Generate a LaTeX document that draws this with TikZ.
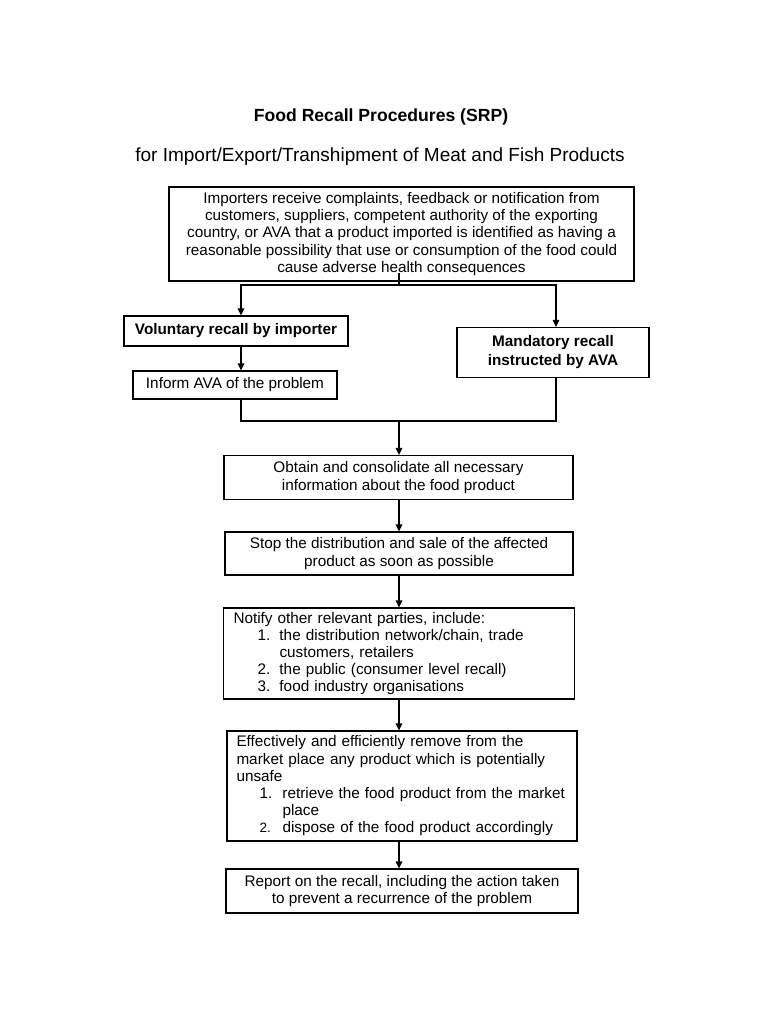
\documentclass[tikz,border=0pt]{standalone}
\usepackage{fontspec}
\setmainfont{Liberation Sans}
\usetikzlibrary{arrows.meta}
\begin{document}
\begin{tikzpicture}[x=1pt,y=-1pt,
  box/.style={draw, line width=1.1pt, inner sep=0pt, align=center, font=\fontsize{15.3}{17.2}\selectfont},
  listbox/.style={box, align=left},
  conn/.style={line width=1.1pt},
  arr/.style={conn, -{Triangle[length=7pt,width=6.5pt]}}]
\useasboundingbox (0,0) rectangle (768,1024);
\node[font=\bfseries\fontsize{17.6}{20}\selectfont] (title) at (381,117) {Food Recall Procedures (SRP)};
\node[font=\fontsize{19}{22}\selectfont] (sub) at (380,157) {for Import/Export/Transhipment of Meat and Fish Products};

\node[box, minimum width=465, minimum height=94] (top) at (401.5,234)
  {Importers receive complaints, feedback or notification from\\
   customers, suppliers, competent authority of the exporting\\
   country, or AVA that a product imported is identified as having a\\
   reasonable possibility that use or consumption of the food could\\
   cause adverse health consequences};
\node[box, font=\bfseries\fontsize{15.3}{17.2}\selectfont, minimum width=224, minimum height=30] (vol) at (236,331) {Voluntary recall by importer};
\node[box, font=\bfseries\fontsize{15.3}{19}\selectfont, minimum width=192, minimum height=50] (man) at (553,352.5) {Mandatory recall\\instructed by AVA};
\node[box, minimum width=204, minimum height=28] (inf) at (235,385) {Inform AVA of the problem};
\node[box, minimum width=349, minimum height=44] (obt) at (398.5,477.5) {Obtain and consolidate all necessary\\information about the food product};
\node[box, minimum width=348, minimum height=43] (stop) at (399,553.5) {Stop the distribution and sale of the affected\\product as soon as possible};
\node[listbox, minimum width=351, minimum height=91, text width=331] (not) at (399,653.5)
  {Notify other relevant parties, include:\\
   \hspace*{24pt}\makebox[22pt][l]{1.}the distribution network/chain, trade\\
   \hspace*{46pt}customers, retailers\\
   \hspace*{24pt}\makebox[22pt][l]{2.}the public (consumer level recall)\\
   \hspace*{24pt}\makebox[22pt][l]{3.}food industry organisations};
\node[listbox, minimum width=350, minimum height=110, text width=331] (eff) at (402,786)
  {Effectively and efficiently remove from the\\
   market place any product which is potentially\\
   unsafe\\
   \hspace*{23pt}\makebox[23pt][l]{1.}retrieve the food product from the market\\
   \hspace*{46pt}place\\
   \hspace*{23pt}\makebox[23pt][l]{\fontsize{13.5}{17.2}\selectfont 2.}dispose of the food product accordingly};
\node[box, minimum width=352, minimum height=44] (rep) at (402,891) {Report on the recall, including the action taken\\to prevent a recurrence of the problem};

\coordinate (split) at (399,285);
\coordinate (join) at (399,421);
\draw[conn] (399,273) -- (split);
\draw[arr] (split) -| (vol.north -| 241,0);
\draw[arr] (split) -| (man.north -| 556,0);
\draw[arr] (vol.south -| 241,0) -- (inf.north -| 241,0);
\draw[conn] (inf.south -| 241,0) |- (join);
\draw[conn] (man.south -| 556,0) |- (join);
\draw[arr] (join) -- (obt.north -| 399,0);
\draw[arr] (obt.south -| 399,0) -- (stop.north -| 399,0);
\draw[arr] (stop.south -| 399,0) -- (not.north -| 399,0);
\draw[arr] (not.south -| 399,0) -- (eff.north -| 399,0);
\draw[arr] (eff.south -| 399,0) -- (rep.north -| 399,0);
\end{tikzpicture}
\end{document}
